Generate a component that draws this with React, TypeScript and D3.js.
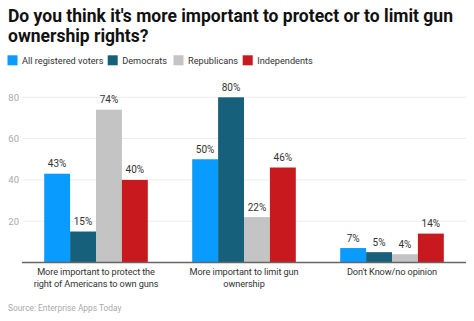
import React from "react";
import * as d3 from "d3";

const categories = [
  ["More important to protect the", "right of Americans to own guns"],
  ["More important to limit gun", "ownership"],
  ["Don't Know/no opinion"],
];
const seriesNames = ["All registered voters", "Democrats", "Republicans", "Independents"];
const allVoters = [43, 50, 7];
const democrats = [15, 80, 5];
const republicans = [74, 22, 4];
const independents = [40, 46, 14];
const yTicks = [20, 40, 60, 80];
const colors = ["#0a9bff", "#17607c", "#c4c4c4", "#c8191e"];

const W = 474, H = 321;
const FONT = "Roboto, 'Noto Sans', sans-serif";

export default function App() {
  const series = [allVoters, democrats, republicans, independents];
  const left = 22, right = 466, y0 = 262.5, yTop = 97.3;
  const x = d3.scaleBand<number>().domain([0, 1, 2]).range([left, right]).paddingInner(0.3).paddingOuter(0.15);
  const xs = d3.scaleBand<number>().domain([0, 1, 2, 3]).range([0, x.bandwidth()]).padding(0);
  const y = d3.scaleLinear().domain([0, 80]).range([y0, yTop]);

  const legendX = [7.5, 107.7, 173.5, 242.7];

  return (
    <svg width={W} height={H} style={{ position: "absolute", left: 0, top: 0, background: "#fff" }} fontFamily={FONT}>
      <text x={8} y={22} fontSize={17.5} fontWeight={700} fill="#111">Do you think it's more important to protect or to limit gun</text>
      <text x={8} y={42} fontSize={17.5} fontWeight={700} fill="#111">ownership rights?</text>
      {seriesNames.map((n, i) => (
        <g key={n} transform={`translate(${legendX[i]},55.3)`}>
          <rect width={10} height={10} fill={colors[i]} />
          <text x={14.5} y={8.5} fontSize={9.2} fill="#333">{n}</text>
        </g>
      ))}
      {yTicks.map((t) => (
        <g key={t}>
          <line x1={23} x2={right} y1={y(t)} y2={y(t)} stroke="#ececec" strokeWidth={1} />
          <text x={19} y={y(t) + 3.5} fontSize={9.5} fill="#aaa" textAnchor="end">{t}</text>
        </g>
      ))}
      {categories.map((cat, ci) => (
        <g key={ci} transform={`translate(${x(ci)},0)`}>
          {series.map((s, si) => (
            <g key={si}>
              <rect x={xs(si)} y={y(s[ci])} width={xs.bandwidth()} height={y0 - y(s[ci])} fill={colors[si]} />
              <text x={(xs(si) as number) + xs.bandwidth() / 2} y={y(s[ci]) - 6.5} fontSize={10} fill="#333" textAnchor="middle">{s[ci]}%</text>
            </g>
          ))}
          {cat.map((line, li) => (
            <text key={li} x={x.bandwidth() / 2} y={275 + li * 11.5} fontSize={9.2} letterSpacing={-0.1} fill="#333" textAnchor="middle">{line}</text>
          ))}
        </g>
      ))}
      <line x1={left} x2={right} y1={y0} y2={y0} stroke="#666" strokeWidth={1.5} />
      <text x={8} y={311} fontSize={8.4} fill="#aaa">Source: Enterprise Apps Today</text>
    </svg>
  );
}
